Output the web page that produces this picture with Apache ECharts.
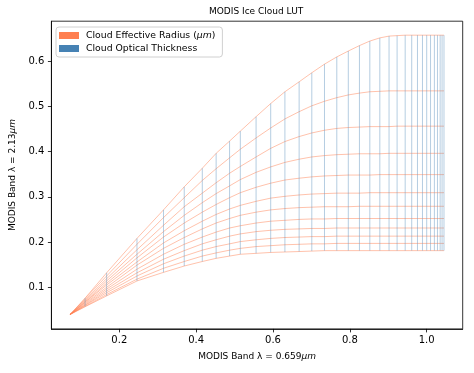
<!DOCTYPE html>
<html><head><meta charset="utf-8">
<script src="https://cdn.jsdelivr.net/npm/echarts@6/dist/echarts.min.js"></script>
<style>html,body{margin:0;padding:0;background:#fff}#c{width:474px;height:373px}</style>
</head><body><div id="c"></div>
<script>
// x (0.659 µm reflectance) for each optical-thickness step
const tauX = [0.072, 0.111, 0.167, 0.246, 0.315, 0.369, 0.416, 0.452, 0.487, 0.515, 0.556, 0.594, 0.631, 0.668, 0.701, 0.734, 0.766, 0.796, 0.825, 0.852, 0.878, 0.902, 0.923, 0.944, 0.961, 0.976, 0.989, 1.000, 1.010, 1.020, 1.028, 1.035, 1.040, 1.045];
// y (2.13 µm reflectance), one array per effective radius
const r05 = [0.040, 0.076, 0.132, 0.208, 0.271, 0.322, 0.363, 0.396, 0.423, 0.445, 0.477, 0.506, 0.532, 0.554, 0.574, 0.593, 0.609, 0.622, 0.634, 0.644, 0.651, 0.655, 0.656, 0.657, 0.657, 0.657, 0.657, 0.657, 0.657, 0.657, 0.657, 0.657, 0.657, 0.657];
const r10 = [0.040, 0.075, 0.125, 0.195, 0.254, 0.298, 0.336, 0.362, 0.386, 0.405, 0.430, 0.452, 0.472, 0.488, 0.501, 0.511, 0.519, 0.525, 0.529, 0.532, 0.533, 0.534, 0.534, 0.534, 0.534, 0.534, 0.534, 0.534, 0.534, 0.534, 0.534, 0.534, 0.534, 0.534];
const r15 = [0.040, 0.072, 0.119, 0.183, 0.237, 0.278, 0.308, 0.331, 0.352, 0.367, 0.388, 0.407, 0.422, 0.433, 0.441, 0.447, 0.451, 0.453, 0.454, 0.455, 0.455, 0.455, 0.456, 0.456, 0.456, 0.456, 0.456, 0.456, 0.456, 0.456, 0.456, 0.456, 0.456, 0.456];
const r20 = [0.040, 0.070, 0.114, 0.173, 0.223, 0.259, 0.287, 0.307, 0.324, 0.338, 0.354, 0.366, 0.376, 0.383, 0.388, 0.391, 0.393, 0.394, 0.395, 0.395, 0.395, 0.396, 0.396, 0.396, 0.396, 0.396, 0.396, 0.396, 0.396, 0.396, 0.396, 0.396, 0.396, 0.396];
const r25 = [0.040, 0.068, 0.109, 0.165, 0.211, 0.242, 0.266, 0.283, 0.298, 0.309, 0.321, 0.330, 0.337, 0.341, 0.344, 0.346, 0.347, 0.348, 0.348, 0.348, 0.349, 0.349, 0.349, 0.349, 0.349, 0.349, 0.349, 0.349, 0.349, 0.349, 0.349, 0.349, 0.349, 0.349];
const r30 = [0.040, 0.067, 0.105, 0.156, 0.198, 0.225, 0.246, 0.261, 0.273, 0.281, 0.290, 0.297, 0.301, 0.304, 0.306, 0.307, 0.308, 0.308, 0.308, 0.309, 0.309, 0.309, 0.309, 0.309, 0.309, 0.309, 0.309, 0.309, 0.309, 0.309, 0.309, 0.309, 0.309, 0.309];
const r35 = [0.040, 0.065, 0.100, 0.149, 0.186, 0.210, 0.229, 0.242, 0.252, 0.259, 0.266, 0.271, 0.274, 0.276, 0.277, 0.278, 0.278, 0.278, 0.279, 0.279, 0.279, 0.279, 0.279, 0.279, 0.279, 0.279, 0.279, 0.279, 0.279, 0.279, 0.279, 0.279, 0.279, 0.279];
const r40 = [0.040, 0.063, 0.096, 0.140, 0.173, 0.195, 0.211, 0.222, 0.231, 0.236, 0.242, 0.246, 0.248, 0.250, 0.251, 0.251, 0.252, 0.252, 0.252, 0.252, 0.252, 0.252, 0.252, 0.252, 0.252, 0.252, 0.252, 0.252, 0.252, 0.252, 0.252, 0.252, 0.252, 0.252];
const r45 = [0.040, 0.061, 0.092, 0.132, 0.162, 0.181, 0.196, 0.205, 0.213, 0.218, 0.223, 0.226, 0.228, 0.229, 0.230, 0.230, 0.231, 0.231, 0.231, 0.231, 0.231, 0.231, 0.231, 0.231, 0.231, 0.231, 0.231, 0.231, 0.231, 0.231, 0.231, 0.231, 0.231, 0.231];
const r50 = [0.040, 0.060, 0.088, 0.125, 0.152, 0.169, 0.182, 0.190, 0.196, 0.201, 0.205, 0.208, 0.210, 0.211, 0.212, 0.212, 0.213, 0.213, 0.213, 0.213, 0.213, 0.213, 0.213, 0.213, 0.213, 0.213, 0.213, 0.213, 0.213, 0.213, 0.213, 0.213, 0.213, 0.213];
const r55 = [0.040, 0.058, 0.084, 0.118, 0.142, 0.157, 0.169, 0.176, 0.182, 0.186, 0.190, 0.192, 0.194, 0.195, 0.196, 0.196, 0.197, 0.197, 0.197, 0.197, 0.197, 0.197, 0.197, 0.197, 0.197, 0.197, 0.197, 0.197, 0.197, 0.197, 0.197, 0.197, 0.197, 0.197];
const r60 = [0.040, 0.057, 0.081, 0.114, 0.133, 0.147, 0.157, 0.164, 0.169, 0.173, 0.175, 0.177, 0.178, 0.179, 0.180, 0.181, 0.181, 0.181, 0.181, 0.181, 0.181, 0.181, 0.181, 0.181, 0.181, 0.181, 0.181, 0.181, 0.181, 0.181, 0.181, 0.181, 0.181, 0.181];
const xTicks = [0.2, 0.4, 0.6, 0.8, 1.0];
const yTicks = [0.1, 0.2, 0.3, 0.4, 0.5, 0.6];

const radiusCurves = [r05, r10, r15, r20, r25, r30, r35, r40, r45, r50, r55, r60];
const FONT = 'DejaVu Sans';
const ORANGE = '#FF7F50', BLUE = '#4682B4';

const series = [];
radiusCurves.forEach(ys => {
  series.push({
    type: 'line', name: 'radius', silent: true, animation: false,
    showSymbol: false, symbol: 'none',
    data: tauX.map((x, j) => [x, ys[j]]),
    lineStyle: { color: ORANGE, width: 0.8, opacity: 0.6 },
    itemStyle: { color: ORANGE }
  });
});
for (let j = 1; j < tauX.length; j++) {
  series.push({
    type: 'line', name: 'tau', silent: true, animation: false,
    showSymbol: false, symbol: 'none',
    data: radiusCurves.map(ys => [tauX[j], ys[j]]),
    lineStyle: { color: BLUE, width: 0.8, opacity: 0.5 },
    itemStyle: { color: BLUE }
  });
}

const chart = echarts.init(document.getElementById('c'), null, { renderer: 'canvas' });
const axisText = { fontFamily: FONT, fontSize: 10, color: '#000' };
chart.setOption({
  backgroundColor: '#fff',
  animation: false,
  title: {
    text: 'MODIS Ice Cloud LUT', left: 209, top: 7, padding: 0,
    textStyle: { fontFamily: FONT, fontSize: 9, fontWeight: 'normal', color: '#000' }
  },
  grid: {
    left: 51.4, right: 11.3, top: 21.2, bottom: 44.1,
    show: true, borderColor: '#000', borderWidth: 0.8, backgroundColor: 'transparent'
  },
  legend: {
    orient: 'vertical', left: 56, top: 27,
    itemWidth: 20, itemHeight: 7, itemGap: 4,
    padding: [4, 7, 4, 3],
    backgroundColor: '#fff', borderColor: '#d0d0d0', borderWidth: 1, borderRadius: 3,
    selectedMode: false,
    textStyle: {
      fontFamily: FONT, fontSize: 9.3, color: '#000', padding: [0, 0, 0, 2],
      rich: { i: { fontFamily: FONT, fontSize: 9.3, fontStyle: 'italic', color: '#000' } }
    },
    data: [
      { name: 'radius', icon: 'rect', itemStyle: { color: ORANGE, opacity: 1 } },
      { name: 'tau', icon: 'rect', itemStyle: { color: BLUE, opacity: 1 } }
    ],
    formatter: n => n === 'radius' ? 'Cloud Effective Radius ({i|μm})' : 'Cloud Optical Thickness'
  },
  xAxis: {
    type: 'value', min: 0.0233, max: 1.0937,
    name: 'MODIS Band λ = 0.659{i|μm}', nameLocation: 'middle', nameGap: 23,
    nameTextStyle: { fontFamily: FONT, fontSize: 9, color: '#000',
      rich: { i: { fontFamily: FONT, fontSize: 9, fontStyle: 'italic', color: '#000' } } },
    axisLine: { show: true, onZero: false, lineStyle: { color: '#000', width: 0.8 } },
    axisTick: { show: true, length: 3.5, customValues: xTicks, lineStyle: { color: '#000', width: 0.8 } },
    axisLabel: Object.assign({ customValues: xTicks, margin: 7, formatter: v => v.toFixed(1) }, axisText),
    splitLine: { show: false }
  },
  yAxis: {
    type: 'value', min: 0.0081, max: 0.6879,
    name: 'MODIS Band λ = 2.13{i|μm}', nameLocation: 'middle', nameGap: 33, nameRotate: 90,
    nameTextStyle: { fontFamily: FONT, fontSize: 9, color: '#000',
      rich: { i: { fontFamily: FONT, fontSize: 9, fontStyle: 'italic', color: '#000' } } },
    axisLine: { show: true, onZero: false, lineStyle: { color: '#000', width: 0.8 } },
    axisTick: { show: true, length: 3.5, customValues: yTicks, lineStyle: { color: '#000', width: 0.8 } },
    axisLabel: Object.assign({ customValues: yTicks, margin: 7, formatter: v => v.toFixed(1) }, axisText),
    splitLine: { show: false }
  },
  series: series
});
</script>
</body></html>
